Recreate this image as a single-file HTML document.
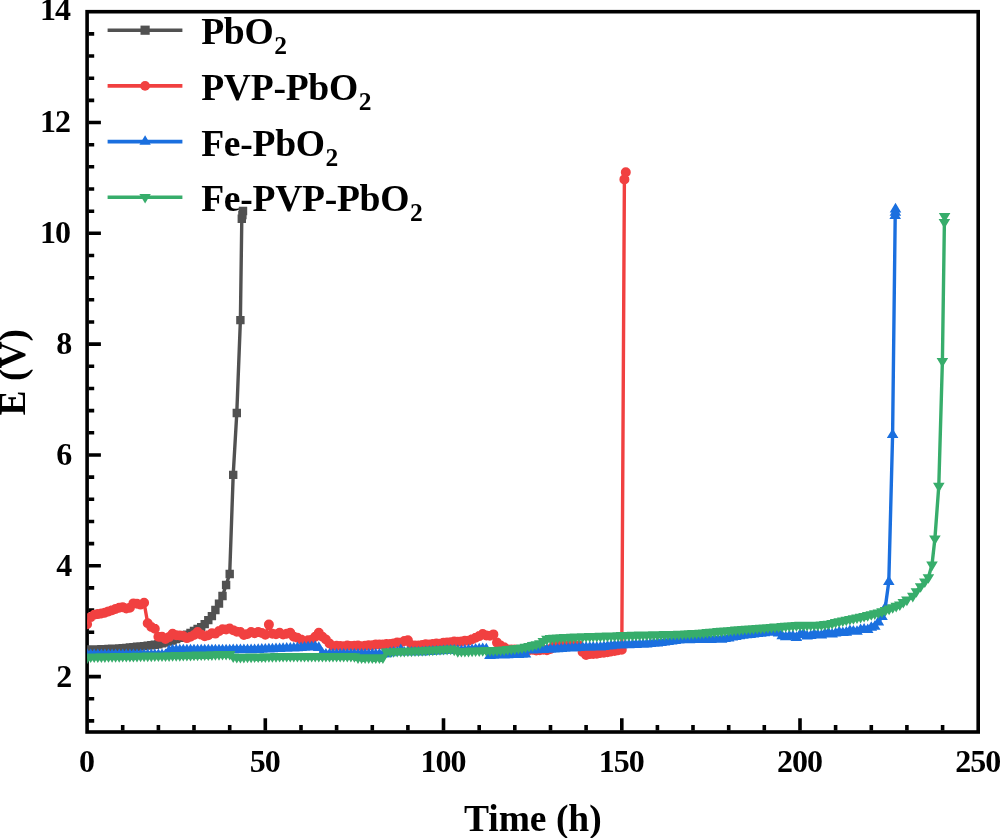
<!DOCTYPE html>
<html lang="en"><head><meta charset="utf-8"><title>E (V) vs Time (h)</title>
<style>
html,body{margin:0;padding:0;background:#fff;}
body{width:1000px;height:838px;overflow:hidden;}
svg{display:block;}
text{font-family:"Liberation Serif","Times New Roman",serif;font-weight:bold;fill:#000;}
.tk{font-size:32px;letter-spacing:-1px;}
.ttl{font-size:37.5px;}
.lg{font-size:37.6px;letter-spacing:-0.28px;}
.sub{font-size:25.5px;letter-spacing:0;}
</style></head><body>
<svg width="1000" height="838" viewBox="0 0 1000 838">
<rect width="1000" height="838" fill="#fff"/>
<g id="legend">
<line x1="107.6" x2="182.4" y1="30.2" y2="30.2" stroke="#515151" stroke-width="3.6"/>
<path d="M140.5 25.6h9.2v9.2h-9.2z" fill="#515151"/>
<text class="lg" x="201.2" y="44.1">PbO<tspan class="sub" dx="0.8" dy="10">2</tspan></text>
<line x1="107.6" x2="182.4" y1="85.9" y2="85.9" stroke="#F14040" stroke-width="3.6"/>
<path d="M140.2 85.9a4.9 4.9 0 1 0 9.8 0a4.9 4.9 0 1 0 -9.8 0z" fill="#F14040"/>
<text class="lg" x="201.2" y="99.8">PVP-PbO<tspan class="sub" dx="0.8" dy="10">2</tspan></text>
<line x1="107.6" x2="182.4" y1="141.6" y2="141.6" stroke="#1A6FDF" stroke-width="3.6"/>
<path d="M145.1 135.3l5.7 9.5h-11.4z" fill="#1A6FDF"/>
<text class="lg" x="201.2" y="155.5">Fe-PbO<tspan class="sub" dx="0.8" dy="10">2</tspan></text>
<line x1="107.6" x2="182.4" y1="197.2" y2="197.2" stroke="#37AD6B" stroke-width="3.6"/>
<path d="M145.1 203.5l5.7 -9.5h-11.4z" fill="#37AD6B"/>
<text class="lg" x="201.2" y="211.1">Fe-PVP-PbO<tspan class="sub" dx="0.8" dy="10">2</tspan></text>
</g>
<g id="axes" stroke="#000" stroke-width="3.6" fill="none">
<rect x="87.1" y="11.7" width="891.1" height="720.3"/>
<path d="M122.7 730.5v-5.6M158.4 730.5v-5.6M194 730.5v-5.6M229.7 730.5v-5.6M265.3 730.5v-12.3M301 730.5v-5.6M336.6 730.5v-5.6M372.3 730.5v-5.6M407.9 730.5v-5.6M443.5 730.5v-12.3M479.2 730.5v-5.6M514.8 730.5v-5.6M550.5 730.5v-5.6M586.1 730.5v-5.6M621.8 730.5v-12.3M657.4 730.5v-5.6M693 730.5v-5.6M728.7 730.5v-5.6M764.3 730.5v-5.6M800 730.5v-12.3M835.6 730.5v-5.6M871.3 730.5v-5.6M906.9 730.5v-5.6M942.6 730.5v-5.6M88.6 720.9h5.6M88.6 698.8h5.6M88.6 676.6h12.3M88.6 654.4h5.6M88.6 632.3h5.6M88.6 610.1h5.6M88.6 587.9h5.6M88.6 565.8h12.3M88.6 543.6h5.6M88.6 521.5h5.6M88.6 499.3h5.6M88.6 477.1h5.6M88.6 455h12.3M88.6 432.8h5.6M88.6 410.6h5.6M88.6 388.5h5.6M88.6 366.3h5.6M88.6 344.1h12.3M88.6 322h5.6M88.6 299.8h5.6M88.6 277.7h5.6M88.6 255.5h5.6M88.6 233.3h12.3M88.6 211.2h5.6M88.6 189h5.6M88.6 166.8h5.6M88.6 144.7h5.6M88.6 122.5h12.3M88.6 100.4h5.6M88.6 78.2h5.6M88.6 56h5.6M88.6 33.9h5.6"/>
</g>
<clipPath id="cp"><rect x="87.1" y="0" width="891.1" height="732"/></clipPath>
<g id="series" fill="none" stroke-linejoin="round" clip-path="url(#cp)">
<polyline points="87.1,649.6 90.7,649.5 94.2,649.4 97.8,649.4 101.4,649.3 104.9,649.2 108.5,649 112.1,648.8 115.6,648.6 119.2,648.4 122.7,648.2 126.3,647.9 129.9,647.5 133.4,647.2 137,646.8 140.6,646.5 144.1,646.1 147.7,645.6 151.3,645.2 154.8,644.8 158.4,644.3 162,643.4 165.5,642.5 169.1,641.5 172.6,640.5 176.2,639.1 179.8,637.8 183.3,636.2 186.9,634.6 190.5,633 194,631 197.6,629 201.2,627.1 204.7,624.1 208.3,620.1 211.9,616.1 215.4,610 219,603.6 222.5,596 226.1,585 229.7,574 233.2,474.9 236.8,413 240.4,320.1 241.8,218.8 242.4,215 243,211" stroke="#515151" stroke-width="3.4"/>
<path d="M82.9 645.4h8.4v8.4h-8.4zM86.5 645.3h8.4v8.4h-8.4zM90 645.2h8.4v8.4h-8.4zM93.6 645.2h8.4v8.4h-8.4zM97.2 645.1h8.4v8.4h-8.4zM100.7 645h8.4v8.4h-8.4zM104.3 644.8h8.4v8.4h-8.4zM107.9 644.6h8.4v8.4h-8.4zM111.4 644.4h8.4v8.4h-8.4zM115 644.2h8.4v8.4h-8.4zM118.5 644h8.4v8.4h-8.4zM122.1 643.7h8.4v8.4h-8.4zM125.7 643.3h8.4v8.4h-8.4zM129.2 643h8.4v8.4h-8.4zM132.8 642.6h8.4v8.4h-8.4zM136.4 642.3h8.4v8.4h-8.4zM139.9 641.9h8.4v8.4h-8.4zM143.5 641.4h8.4v8.4h-8.4zM147.1 641h8.4v8.4h-8.4zM150.6 640.5h8.4v8.4h-8.4zM154.2 640.1h8.4v8.4h-8.4zM157.8 639.2h8.4v8.4h-8.4zM161.3 638.3h8.4v8.4h-8.4zM164.9 637.3h8.4v8.4h-8.4zM168.4 636.3h8.4v8.4h-8.4zM172 634.9h8.4v8.4h-8.4zM175.6 633.6h8.4v8.4h-8.4zM179.1 632h8.4v8.4h-8.4zM182.7 630.4h8.4v8.4h-8.4zM186.3 628.8h8.4v8.4h-8.4zM189.8 626.8h8.4v8.4h-8.4zM193.4 624.8h8.4v8.4h-8.4zM197 622.9h8.4v8.4h-8.4zM200.5 619.9h8.4v8.4h-8.4zM204.1 615.9h8.4v8.4h-8.4zM207.7 611.9h8.4v8.4h-8.4zM211.2 605.8h8.4v8.4h-8.4zM214.8 599.4h8.4v8.4h-8.4zM218.3 591.8h8.4v8.4h-8.4zM221.9 580.8h8.4v8.4h-8.4zM225.5 569.8h8.4v8.4h-8.4zM229 470.7h8.4v8.4h-8.4zM232.6 408.8h8.4v8.4h-8.4zM236.2 315.9h8.4v8.4h-8.4zM237.6 214.6h8.4v8.4h-8.4zM238.2 210.8h8.4v8.4h-8.4zM238.8 206.8h8.4v8.4h-8.4z" fill="#515151" stroke="none"/>
<polyline points="87.1,624.2 90.7,617.1 94.2,614.8 97.8,614.1 101.4,613.5 104.9,612.7 108.5,611.4 112.1,610.2 115.6,608.9 119.2,607.8 122.7,607.2 126.3,608.4 129.9,607.7 133.4,603.4 137,603.8 140.6,604.6 144.1,602.8 147.7,623.3 151.3,627 154.8,628.8 158.4,636.8 162,636.8 165.5,638.9 169.1,637.1 172.6,633.8 176.2,635.3 179.8,635.4 183.3,636 186.9,638.1 190.5,636.8 194,635 197.6,632 201.2,634.6 204.7,636.2 208.3,635.2 211.9,633.2 215.4,633.6 219,631.1 222.5,629.3 226.1,629.5 229.7,628.6 233.2,630.2 236.8,631.8 240.4,632 243.9,634.9 247.5,633.9 251.1,632.1 254.6,633.3 258.2,632 261.8,633 265.3,634.7 268.9,624.6 272.4,633.8 276,634.3 279.6,632.7 283.1,634.4 286.7,633.8 290.3,632.7 293.8,636.7 297.4,637.8 301,639.4 304.5,641.4 308.1,640.3 311.7,639.7 315.2,636.8 318.8,632.8 322.4,636.7 325.9,639.5 329.5,643.5 333,646 336.6,645.7 340.2,646 343.7,646.2 347.3,645.5 350.9,645.9 354.4,645.8 358,645.6 361.6,646.2 365.1,645.7 368.7,645.2 372.3,645.3 375.8,644.4 379.4,644.5 382.9,644.6 386.5,644 390.1,644.1 393.6,643.4 397.2,642.5 400.8,642.5 404.3,641.1 407.9,640.3 411.5,645.2 415,645.6 418.6,645.5 422.2,645.1 425.7,644.2 429.3,644.5 432.8,644.1 436.4,643.6 440,643.8 443.5,642.8 447.1,642.4 450.7,642.3 454.2,641.5 457.8,641.7 461.4,641.5 464.9,640.7 468.5,640.7 472.1,639.3 475.6,637.8 479.2,636.1 482.7,634.1 486.3,635.5 489.9,635.8 493.4,634.4 497,642.6 500.6,645.6 504.1,647.3 507.7,649.3 511.3,649.5 514.8,649.5 518.4,649.9 522,649.3 525.5,649.7 529.1,650.1 532.6,649.8 536.2,650.4 539.8,650.2 543.3,649.8 546.9,650.2 550.5,648.9 554,645.3 557.6,645.9 561.2,645.4 564.7,645.8 568.3,645.7 571.9,645 575.4,645.5 579,645.4 582.6,652 586.1,654.9 589.7,654.1 593.2,653.9 596.8,653.8 600.4,652.9 603.9,652.8 607.5,652.3 611.1,651.4 614.6,650.9 618.2,650.3 621.8,649.8 624.4,179.4 625.8,172.2" stroke="#F14040" stroke-width="3.4"/>
<path d="M82.1 624.2a5 5 0 1 0 10 0a5 5 0 1 0 -10 0zM85.7 617.1a5 5 0 1 0 10 0a5 5 0 1 0 -10 0zM89.2 614.8a5 5 0 1 0 10 0a5 5 0 1 0 -10 0zM92.8 614.1a5 5 0 1 0 10 0a5 5 0 1 0 -10 0zM96.4 613.5a5 5 0 1 0 10 0a5 5 0 1 0 -10 0zM99.9 612.7a5 5 0 1 0 10 0a5 5 0 1 0 -10 0zM103.5 611.4a5 5 0 1 0 10 0a5 5 0 1 0 -10 0zM107.1 610.2a5 5 0 1 0 10 0a5 5 0 1 0 -10 0zM110.6 608.9a5 5 0 1 0 10 0a5 5 0 1 0 -10 0zM114.2 607.8a5 5 0 1 0 10 0a5 5 0 1 0 -10 0zM117.7 607.2a5 5 0 1 0 10 0a5 5 0 1 0 -10 0zM121.3 608.4a5 5 0 1 0 10 0a5 5 0 1 0 -10 0zM124.9 607.7a5 5 0 1 0 10 0a5 5 0 1 0 -10 0zM128.4 603.4a5 5 0 1 0 10 0a5 5 0 1 0 -10 0zM132 603.8a5 5 0 1 0 10 0a5 5 0 1 0 -10 0zM135.6 604.6a5 5 0 1 0 10 0a5 5 0 1 0 -10 0zM139.1 602.8a5 5 0 1 0 10 0a5 5 0 1 0 -10 0zM142.7 623.3a5 5 0 1 0 10 0a5 5 0 1 0 -10 0zM146.3 627a5 5 0 1 0 10 0a5 5 0 1 0 -10 0zM149.8 628.8a5 5 0 1 0 10 0a5 5 0 1 0 -10 0zM153.4 636.8a5 5 0 1 0 10 0a5 5 0 1 0 -10 0zM157 636.8a5 5 0 1 0 10 0a5 5 0 1 0 -10 0zM160.5 638.9a5 5 0 1 0 10 0a5 5 0 1 0 -10 0zM164.1 637.1a5 5 0 1 0 10 0a5 5 0 1 0 -10 0zM167.6 633.8a5 5 0 1 0 10 0a5 5 0 1 0 -10 0zM171.2 635.3a5 5 0 1 0 10 0a5 5 0 1 0 -10 0zM174.8 635.4a5 5 0 1 0 10 0a5 5 0 1 0 -10 0zM178.3 636a5 5 0 1 0 10 0a5 5 0 1 0 -10 0zM181.9 638.1a5 5 0 1 0 10 0a5 5 0 1 0 -10 0zM185.5 636.8a5 5 0 1 0 10 0a5 5 0 1 0 -10 0zM189 635a5 5 0 1 0 10 0a5 5 0 1 0 -10 0zM192.6 632a5 5 0 1 0 10 0a5 5 0 1 0 -10 0zM196.2 634.6a5 5 0 1 0 10 0a5 5 0 1 0 -10 0zM199.7 636.2a5 5 0 1 0 10 0a5 5 0 1 0 -10 0zM203.3 635.2a5 5 0 1 0 10 0a5 5 0 1 0 -10 0zM206.9 633.2a5 5 0 1 0 10 0a5 5 0 1 0 -10 0zM210.4 633.6a5 5 0 1 0 10 0a5 5 0 1 0 -10 0zM214 631.1a5 5 0 1 0 10 0a5 5 0 1 0 -10 0zM217.5 629.3a5 5 0 1 0 10 0a5 5 0 1 0 -10 0zM221.1 629.5a5 5 0 1 0 10 0a5 5 0 1 0 -10 0zM224.7 628.6a5 5 0 1 0 10 0a5 5 0 1 0 -10 0zM228.2 630.2a5 5 0 1 0 10 0a5 5 0 1 0 -10 0zM231.8 631.8a5 5 0 1 0 10 0a5 5 0 1 0 -10 0zM235.4 632a5 5 0 1 0 10 0a5 5 0 1 0 -10 0zM238.9 634.9a5 5 0 1 0 10 0a5 5 0 1 0 -10 0zM242.5 633.9a5 5 0 1 0 10 0a5 5 0 1 0 -10 0zM246.1 632.1a5 5 0 1 0 10 0a5 5 0 1 0 -10 0zM249.6 633.3a5 5 0 1 0 10 0a5 5 0 1 0 -10 0zM253.2 632a5 5 0 1 0 10 0a5 5 0 1 0 -10 0zM256.8 633a5 5 0 1 0 10 0a5 5 0 1 0 -10 0zM260.3 634.7a5 5 0 1 0 10 0a5 5 0 1 0 -10 0zM263.9 624.6a5 5 0 1 0 10 0a5 5 0 1 0 -10 0zM267.4 633.8a5 5 0 1 0 10 0a5 5 0 1 0 -10 0zM271 634.3a5 5 0 1 0 10 0a5 5 0 1 0 -10 0zM274.6 632.7a5 5 0 1 0 10 0a5 5 0 1 0 -10 0zM278.1 634.4a5 5 0 1 0 10 0a5 5 0 1 0 -10 0zM281.7 633.8a5 5 0 1 0 10 0a5 5 0 1 0 -10 0zM285.3 632.7a5 5 0 1 0 10 0a5 5 0 1 0 -10 0zM288.8 636.7a5 5 0 1 0 10 0a5 5 0 1 0 -10 0zM292.4 637.8a5 5 0 1 0 10 0a5 5 0 1 0 -10 0zM296 639.4a5 5 0 1 0 10 0a5 5 0 1 0 -10 0zM299.5 641.4a5 5 0 1 0 10 0a5 5 0 1 0 -10 0zM303.1 640.3a5 5 0 1 0 10 0a5 5 0 1 0 -10 0zM306.7 639.7a5 5 0 1 0 10 0a5 5 0 1 0 -10 0zM310.2 636.8a5 5 0 1 0 10 0a5 5 0 1 0 -10 0zM313.8 632.8a5 5 0 1 0 10 0a5 5 0 1 0 -10 0zM317.4 636.7a5 5 0 1 0 10 0a5 5 0 1 0 -10 0zM320.9 639.5a5 5 0 1 0 10 0a5 5 0 1 0 -10 0zM324.5 643.5a5 5 0 1 0 10 0a5 5 0 1 0 -10 0zM328 646a5 5 0 1 0 10 0a5 5 0 1 0 -10 0zM331.6 645.7a5 5 0 1 0 10 0a5 5 0 1 0 -10 0zM335.2 646a5 5 0 1 0 10 0a5 5 0 1 0 -10 0zM338.7 646.2a5 5 0 1 0 10 0a5 5 0 1 0 -10 0zM342.3 645.5a5 5 0 1 0 10 0a5 5 0 1 0 -10 0zM345.9 645.9a5 5 0 1 0 10 0a5 5 0 1 0 -10 0zM349.4 645.8a5 5 0 1 0 10 0a5 5 0 1 0 -10 0zM353 645.6a5 5 0 1 0 10 0a5 5 0 1 0 -10 0zM356.6 646.2a5 5 0 1 0 10 0a5 5 0 1 0 -10 0zM360.1 645.7a5 5 0 1 0 10 0a5 5 0 1 0 -10 0zM363.7 645.2a5 5 0 1 0 10 0a5 5 0 1 0 -10 0zM367.3 645.3a5 5 0 1 0 10 0a5 5 0 1 0 -10 0zM370.8 644.4a5 5 0 1 0 10 0a5 5 0 1 0 -10 0zM374.4 644.5a5 5 0 1 0 10 0a5 5 0 1 0 -10 0zM377.9 644.6a5 5 0 1 0 10 0a5 5 0 1 0 -10 0zM381.5 644a5 5 0 1 0 10 0a5 5 0 1 0 -10 0zM385.1 644.1a5 5 0 1 0 10 0a5 5 0 1 0 -10 0zM388.6 643.4a5 5 0 1 0 10 0a5 5 0 1 0 -10 0zM392.2 642.5a5 5 0 1 0 10 0a5 5 0 1 0 -10 0zM395.8 642.5a5 5 0 1 0 10 0a5 5 0 1 0 -10 0zM399.3 641.1a5 5 0 1 0 10 0a5 5 0 1 0 -10 0zM402.9 640.3a5 5 0 1 0 10 0a5 5 0 1 0 -10 0zM406.5 645.2a5 5 0 1 0 10 0a5 5 0 1 0 -10 0zM410 645.6a5 5 0 1 0 10 0a5 5 0 1 0 -10 0zM413.6 645.5a5 5 0 1 0 10 0a5 5 0 1 0 -10 0zM417.2 645.1a5 5 0 1 0 10 0a5 5 0 1 0 -10 0zM420.7 644.2a5 5 0 1 0 10 0a5 5 0 1 0 -10 0zM424.3 644.5a5 5 0 1 0 10 0a5 5 0 1 0 -10 0zM427.8 644.1a5 5 0 1 0 10 0a5 5 0 1 0 -10 0zM431.4 643.6a5 5 0 1 0 10 0a5 5 0 1 0 -10 0zM435 643.8a5 5 0 1 0 10 0a5 5 0 1 0 -10 0zM438.5 642.8a5 5 0 1 0 10 0a5 5 0 1 0 -10 0zM442.1 642.4a5 5 0 1 0 10 0a5 5 0 1 0 -10 0zM445.7 642.3a5 5 0 1 0 10 0a5 5 0 1 0 -10 0zM449.2 641.5a5 5 0 1 0 10 0a5 5 0 1 0 -10 0zM452.8 641.7a5 5 0 1 0 10 0a5 5 0 1 0 -10 0zM456.4 641.5a5 5 0 1 0 10 0a5 5 0 1 0 -10 0zM459.9 640.7a5 5 0 1 0 10 0a5 5 0 1 0 -10 0zM463.5 640.7a5 5 0 1 0 10 0a5 5 0 1 0 -10 0zM467.1 639.3a5 5 0 1 0 10 0a5 5 0 1 0 -10 0zM470.6 637.8a5 5 0 1 0 10 0a5 5 0 1 0 -10 0zM474.2 636.1a5 5 0 1 0 10 0a5 5 0 1 0 -10 0zM477.7 634.1a5 5 0 1 0 10 0a5 5 0 1 0 -10 0zM481.3 635.5a5 5 0 1 0 10 0a5 5 0 1 0 -10 0zM484.9 635.8a5 5 0 1 0 10 0a5 5 0 1 0 -10 0zM488.4 634.4a5 5 0 1 0 10 0a5 5 0 1 0 -10 0zM492 642.6a5 5 0 1 0 10 0a5 5 0 1 0 -10 0zM495.6 645.6a5 5 0 1 0 10 0a5 5 0 1 0 -10 0zM499.1 647.3a5 5 0 1 0 10 0a5 5 0 1 0 -10 0zM502.7 649.3a5 5 0 1 0 10 0a5 5 0 1 0 -10 0zM506.3 649.5a5 5 0 1 0 10 0a5 5 0 1 0 -10 0zM509.8 649.5a5 5 0 1 0 10 0a5 5 0 1 0 -10 0zM513.4 649.9a5 5 0 1 0 10 0a5 5 0 1 0 -10 0zM517 649.3a5 5 0 1 0 10 0a5 5 0 1 0 -10 0zM520.5 649.7a5 5 0 1 0 10 0a5 5 0 1 0 -10 0zM524.1 650.1a5 5 0 1 0 10 0a5 5 0 1 0 -10 0zM527.6 649.8a5 5 0 1 0 10 0a5 5 0 1 0 -10 0zM531.2 650.4a5 5 0 1 0 10 0a5 5 0 1 0 -10 0zM534.8 650.2a5 5 0 1 0 10 0a5 5 0 1 0 -10 0zM538.3 649.8a5 5 0 1 0 10 0a5 5 0 1 0 -10 0zM541.9 650.2a5 5 0 1 0 10 0a5 5 0 1 0 -10 0zM545.5 648.9a5 5 0 1 0 10 0a5 5 0 1 0 -10 0zM549 645.3a5 5 0 1 0 10 0a5 5 0 1 0 -10 0zM552.6 645.9a5 5 0 1 0 10 0a5 5 0 1 0 -10 0zM556.2 645.4a5 5 0 1 0 10 0a5 5 0 1 0 -10 0zM559.7 645.8a5 5 0 1 0 10 0a5 5 0 1 0 -10 0zM563.3 645.7a5 5 0 1 0 10 0a5 5 0 1 0 -10 0zM566.9 645a5 5 0 1 0 10 0a5 5 0 1 0 -10 0zM570.4 645.5a5 5 0 1 0 10 0a5 5 0 1 0 -10 0zM574 645.4a5 5 0 1 0 10 0a5 5 0 1 0 -10 0zM577.6 652a5 5 0 1 0 10 0a5 5 0 1 0 -10 0zM581.1 654.9a5 5 0 1 0 10 0a5 5 0 1 0 -10 0zM584.7 654.1a5 5 0 1 0 10 0a5 5 0 1 0 -10 0zM588.2 653.9a5 5 0 1 0 10 0a5 5 0 1 0 -10 0zM591.8 653.8a5 5 0 1 0 10 0a5 5 0 1 0 -10 0zM595.4 652.9a5 5 0 1 0 10 0a5 5 0 1 0 -10 0zM598.9 652.8a5 5 0 1 0 10 0a5 5 0 1 0 -10 0zM602.5 652.3a5 5 0 1 0 10 0a5 5 0 1 0 -10 0zM606.1 651.4a5 5 0 1 0 10 0a5 5 0 1 0 -10 0zM609.6 650.9a5 5 0 1 0 10 0a5 5 0 1 0 -10 0zM613.2 650.3a5 5 0 1 0 10 0a5 5 0 1 0 -10 0zM616.8 649.8a5 5 0 1 0 10 0a5 5 0 1 0 -10 0zM619.4 179.4a5 5 0 1 0 10 0a5 5 0 1 0 -10 0zM620.8 172.2a5 5 0 1 0 10 0a5 5 0 1 0 -10 0z" fill="#F14040" stroke="none"/>
<polyline points="87.1,654.8 90.7,654.8 94.2,654.8 97.8,654.8 101.4,654.8 104.9,654.8 108.5,654.8 112.1,654.8 115.6,654.8 119.2,654.8 122.7,654.8 126.3,654.8 129.9,654.8 133.4,654.8 137,654.8 140.6,654.8 144.1,654.8 147.7,654.8 151.3,654.8 154.8,654.8 158.4,654.8 162,654.8 165.5,654.8 169.1,650.8 172.6,650.2 176.2,650.2 179.8,650.2 183.3,650.2 186.9,650.2 190.5,650.1 194,650.1 197.6,650.1 201.2,650.1 204.7,650.1 208.3,650.1 211.9,650.1 215.4,650.1 219,650.1 222.5,650.1 226.1,650.1 229.7,650.1 233.2,650 236.8,650 240.4,650 243.9,650 247.5,650 251.1,650 254.6,649.8 258.2,649.7 261.8,649.5 265.3,649.4 268.9,649.2 272.4,649.1 276,648.9 279.6,648.8 283.1,648.6 286.7,648.5 290.3,648.3 293.8,648.2 297.4,648 301,647.8 304.5,647.5 308.1,647.2 311.7,646.9 315.2,646.6 318.8,647.7 322.4,653.4 325.9,654.4 329.5,654.4 333,654.4 336.6,654.4 340.2,654.4 343.7,654.4 347.3,654.4 350.9,654.4 354.4,654.4 358,654.4 361.6,654.4 365.1,654.4 368.7,654.4 372.3,654.4 375.8,654.4 379.4,654.4 382.9,654.4 386.5,654 390.1,653 393.6,652.4 397.2,652.4 400.8,650 404.3,652.4 407.9,652.4 411.5,652.3 415,652.3 418.6,652.3 422.2,652.2 425.7,651.9 429.3,651.7 432.8,651.5 436.4,651.3 440,651.1 443.5,650.8 447.1,650.6 450.7,650.4 454.2,650.5 457.8,650.7 461.4,650.8 464.9,650.5 468.5,650.1 472.1,649.8 475.6,649.5 479.2,649.2 482.7,648.9 486.3,649.2 489.9,655.7 493.4,655.6 497,655.4 500.6,655.3 504.1,655.2 507.7,655.1 511.3,654.9 514.8,654.8 518.4,654.7 522,654.6 525.5,654.4 529.1,647.9 532.6,650.2 536.2,650.1 539.8,649.9 543.3,649.8 546.9,649.6 550.5,649.5 554,649.3 557.6,649.1 561.2,648.8 564.7,648.6 568.3,648.4 571.9,648.2 575.4,648 579,647.8 582.6,647.6 586.1,647.5 589.7,647.5 593.2,647.4 596.8,647.3 600.4,647.2 603.9,646.8 607.5,646.4 611.1,646 614.6,645.6 618.2,645.4 621.8,645.3 625.3,645.1 628.9,645 632.5,644.9 636,644.7 639.6,644.6 643.1,644.5 646.7,644.2 650.3,643.9 653.8,643.5 657.4,643.2 661,642.8 664.5,642.4 668.1,641.9 671.7,641.4 675.2,640.8 678.8,640.3 682.4,640.1 685.9,640 689.5,640 693,639.9 696.6,639.9 700.2,639.8 703.7,639.8 707.3,639.7 710.9,639.7 714.4,639.6 718,639.6 721.6,639.5 725.1,638.9 728.7,638.2 732.3,637.4 735.8,636.7 739.4,636 742.9,635.6 746.5,635.1 750.1,634.7 753.6,634.3 757.2,633.9 760.8,633.5 764.3,633.1 767.9,632.6 771.5,632.2 775,631.8 778.6,633.2 782.2,636.1 785.7,637.1 789.3,636.1 792.9,636.2 796.4,637.7 800,634.7 803.5,634.1 807.1,636.2 810.7,635.9 814.2,634.4 817.8,635 821.4,635.4 824.9,633.7 828.5,633.2 832.1,634.4 835.6,633.3 839.2,632.1 842.8,632.9 846.3,632.5 849.9,630.9 853.4,631.3 857,631.6 860.6,629.9 864.1,629.5 867.7,629.8 871.3,627.6 874.8,626.6 878.4,622.2 882,616.8 885.2,607.9 888.8,581.8 892.6,434.8 895.2,215.8 895.4,212.6 895.5,209.2" stroke="#1A6FDF" stroke-width="3.4"/>
<path d="M87.1 648.4l5.8 9.6h-11.6zM90.7 648.4l5.8 9.6h-11.6zM94.2 648.4l5.8 9.6h-11.6zM97.8 648.4l5.8 9.6h-11.6zM101.4 648.4l5.8 9.6h-11.6zM104.9 648.4l5.8 9.6h-11.6zM108.5 648.4l5.8 9.6h-11.6zM112.1 648.4l5.8 9.6h-11.6zM115.6 648.4l5.8 9.6h-11.6zM119.2 648.4l5.8 9.6h-11.6zM122.7 648.4l5.8 9.6h-11.6zM126.3 648.4l5.8 9.6h-11.6zM129.9 648.4l5.8 9.6h-11.6zM133.4 648.4l5.8 9.6h-11.6zM137 648.4l5.8 9.6h-11.6zM140.6 648.4l5.8 9.6h-11.6zM144.1 648.4l5.8 9.6h-11.6zM147.7 648.4l5.8 9.6h-11.6zM151.3 648.4l5.8 9.6h-11.6zM154.8 648.4l5.8 9.6h-11.6zM158.4 648.4l5.8 9.6h-11.6zM162 648.4l5.8 9.6h-11.6zM165.5 648.4l5.8 9.6h-11.6zM169.1 644.4l5.8 9.6h-11.6zM172.6 643.8l5.8 9.6h-11.6zM176.2 643.8l5.8 9.6h-11.6zM179.8 643.8l5.8 9.6h-11.6zM183.3 643.8l5.8 9.6h-11.6zM186.9 643.8l5.8 9.6h-11.6zM190.5 643.7l5.8 9.6h-11.6zM194 643.7l5.8 9.6h-11.6zM197.6 643.7l5.8 9.6h-11.6zM201.2 643.7l5.8 9.6h-11.6zM204.7 643.7l5.8 9.6h-11.6zM208.3 643.7l5.8 9.6h-11.6zM211.9 643.7l5.8 9.6h-11.6zM215.4 643.7l5.8 9.6h-11.6zM219 643.7l5.8 9.6h-11.6zM222.5 643.7l5.8 9.6h-11.6zM226.1 643.7l5.8 9.6h-11.6zM229.7 643.7l5.8 9.6h-11.6zM233.2 643.6l5.8 9.6h-11.6zM236.8 643.6l5.8 9.6h-11.6zM240.4 643.6l5.8 9.6h-11.6zM243.9 643.6l5.8 9.6h-11.6zM247.5 643.6l5.8 9.6h-11.6zM251.1 643.6l5.8 9.6h-11.6zM254.6 643.4l5.8 9.6h-11.6zM258.2 643.3l5.8 9.6h-11.6zM261.8 643.1l5.8 9.6h-11.6zM265.3 643l5.8 9.6h-11.6zM268.9 642.8l5.8 9.6h-11.6zM272.4 642.7l5.8 9.6h-11.6zM276 642.5l5.8 9.6h-11.6zM279.6 642.4l5.8 9.6h-11.6zM283.1 642.2l5.8 9.6h-11.6zM286.7 642.1l5.8 9.6h-11.6zM290.3 641.9l5.8 9.6h-11.6zM293.8 641.8l5.8 9.6h-11.6zM297.4 641.6l5.8 9.6h-11.6zM301 641.4l5.8 9.6h-11.6zM304.5 641.1l5.8 9.6h-11.6zM308.1 640.8l5.8 9.6h-11.6zM311.7 640.5l5.8 9.6h-11.6zM315.2 640.2l5.8 9.6h-11.6zM318.8 641.3l5.8 9.6h-11.6zM322.4 647l5.8 9.6h-11.6zM325.9 648l5.8 9.6h-11.6zM329.5 648l5.8 9.6h-11.6zM333 648l5.8 9.6h-11.6zM336.6 648l5.8 9.6h-11.6zM340.2 648l5.8 9.6h-11.6zM343.7 648l5.8 9.6h-11.6zM347.3 648l5.8 9.6h-11.6zM350.9 648l5.8 9.6h-11.6zM354.4 648l5.8 9.6h-11.6zM358 648l5.8 9.6h-11.6zM361.6 648l5.8 9.6h-11.6zM365.1 648l5.8 9.6h-11.6zM368.7 648l5.8 9.6h-11.6zM372.3 648l5.8 9.6h-11.6zM375.8 648l5.8 9.6h-11.6zM379.4 648l5.8 9.6h-11.6zM382.9 648l5.8 9.6h-11.6zM386.5 647.6l5.8 9.6h-11.6zM390.1 646.6l5.8 9.6h-11.6zM393.6 646l5.8 9.6h-11.6zM397.2 646l5.8 9.6h-11.6zM400.8 643.6l5.8 9.6h-11.6zM404.3 646l5.8 9.6h-11.6zM407.9 646l5.8 9.6h-11.6zM411.5 645.9l5.8 9.6h-11.6zM415 645.9l5.8 9.6h-11.6zM418.6 645.9l5.8 9.6h-11.6zM422.2 645.8l5.8 9.6h-11.6zM425.7 645.5l5.8 9.6h-11.6zM429.3 645.3l5.8 9.6h-11.6zM432.8 645.1l5.8 9.6h-11.6zM436.4 644.9l5.8 9.6h-11.6zM440 644.7l5.8 9.6h-11.6zM443.5 644.4l5.8 9.6h-11.6zM447.1 644.2l5.8 9.6h-11.6zM450.7 644l5.8 9.6h-11.6zM454.2 644.1l5.8 9.6h-11.6zM457.8 644.3l5.8 9.6h-11.6zM461.4 644.4l5.8 9.6h-11.6zM464.9 644.1l5.8 9.6h-11.6zM468.5 643.7l5.8 9.6h-11.6zM472.1 643.4l5.8 9.6h-11.6zM475.6 643.1l5.8 9.6h-11.6zM479.2 642.8l5.8 9.6h-11.6zM482.7 642.5l5.8 9.6h-11.6zM486.3 642.8l5.8 9.6h-11.6zM489.9 649.3l5.8 9.6h-11.6zM493.4 649.2l5.8 9.6h-11.6zM497 649l5.8 9.6h-11.6zM500.6 648.9l5.8 9.6h-11.6zM504.1 648.8l5.8 9.6h-11.6zM507.7 648.7l5.8 9.6h-11.6zM511.3 648.5l5.8 9.6h-11.6zM514.8 648.4l5.8 9.6h-11.6zM518.4 648.3l5.8 9.6h-11.6zM522 648.2l5.8 9.6h-11.6zM525.5 648l5.8 9.6h-11.6zM529.1 641.5l5.8 9.6h-11.6zM532.6 643.8l5.8 9.6h-11.6zM536.2 643.7l5.8 9.6h-11.6zM539.8 643.5l5.8 9.6h-11.6zM543.3 643.4l5.8 9.6h-11.6zM546.9 643.2l5.8 9.6h-11.6zM550.5 643.1l5.8 9.6h-11.6zM554 642.9l5.8 9.6h-11.6zM557.6 642.7l5.8 9.6h-11.6zM561.2 642.4l5.8 9.6h-11.6zM564.7 642.2l5.8 9.6h-11.6zM568.3 642l5.8 9.6h-11.6zM571.9 641.8l5.8 9.6h-11.6zM575.4 641.6l5.8 9.6h-11.6zM579 641.4l5.8 9.6h-11.6zM582.6 641.2l5.8 9.6h-11.6zM586.1 641.1l5.8 9.6h-11.6zM589.7 641.1l5.8 9.6h-11.6zM593.2 641l5.8 9.6h-11.6zM596.8 640.9l5.8 9.6h-11.6zM600.4 640.8l5.8 9.6h-11.6zM603.9 640.4l5.8 9.6h-11.6zM607.5 640l5.8 9.6h-11.6zM611.1 639.6l5.8 9.6h-11.6zM614.6 639.2l5.8 9.6h-11.6zM618.2 639l5.8 9.6h-11.6zM621.8 638.9l5.8 9.6h-11.6zM625.3 638.7l5.8 9.6h-11.6zM628.9 638.6l5.8 9.6h-11.6zM632.5 638.5l5.8 9.6h-11.6zM636 638.3l5.8 9.6h-11.6zM639.6 638.2l5.8 9.6h-11.6zM643.1 638.1l5.8 9.6h-11.6zM646.7 637.8l5.8 9.6h-11.6zM650.3 637.5l5.8 9.6h-11.6zM653.8 637.1l5.8 9.6h-11.6zM657.4 636.8l5.8 9.6h-11.6zM661 636.4l5.8 9.6h-11.6zM664.5 636l5.8 9.6h-11.6zM668.1 635.5l5.8 9.6h-11.6zM671.7 635l5.8 9.6h-11.6zM675.2 634.4l5.8 9.6h-11.6zM678.8 633.9l5.8 9.6h-11.6zM682.4 633.7l5.8 9.6h-11.6zM685.9 633.6l5.8 9.6h-11.6zM689.5 633.6l5.8 9.6h-11.6zM693 633.5l5.8 9.6h-11.6zM696.6 633.5l5.8 9.6h-11.6zM700.2 633.4l5.8 9.6h-11.6zM703.7 633.4l5.8 9.6h-11.6zM707.3 633.3l5.8 9.6h-11.6zM710.9 633.3l5.8 9.6h-11.6zM714.4 633.2l5.8 9.6h-11.6zM718 633.2l5.8 9.6h-11.6zM721.6 633.1l5.8 9.6h-11.6zM725.1 632.5l5.8 9.6h-11.6zM728.7 631.8l5.8 9.6h-11.6zM732.3 631l5.8 9.6h-11.6zM735.8 630.3l5.8 9.6h-11.6zM739.4 629.6l5.8 9.6h-11.6zM742.9 629.2l5.8 9.6h-11.6zM746.5 628.7l5.8 9.6h-11.6zM750.1 628.3l5.8 9.6h-11.6zM753.6 627.9l5.8 9.6h-11.6zM757.2 627.5l5.8 9.6h-11.6zM760.8 627.1l5.8 9.6h-11.6zM764.3 626.7l5.8 9.6h-11.6zM767.9 626.2l5.8 9.6h-11.6zM771.5 625.8l5.8 9.6h-11.6zM775 625.4l5.8 9.6h-11.6zM778.6 626.8l5.8 9.6h-11.6zM782.2 629.7l5.8 9.6h-11.6zM785.7 630.7l5.8 9.6h-11.6zM789.3 629.7l5.8 9.6h-11.6zM792.9 629.8l5.8 9.6h-11.6zM796.4 631.3l5.8 9.6h-11.6zM800 628.3l5.8 9.6h-11.6zM803.5 627.7l5.8 9.6h-11.6zM807.1 629.8l5.8 9.6h-11.6zM810.7 629.5l5.8 9.6h-11.6zM814.2 628l5.8 9.6h-11.6zM817.8 628.6l5.8 9.6h-11.6zM821.4 629l5.8 9.6h-11.6zM824.9 627.3l5.8 9.6h-11.6zM828.5 626.8l5.8 9.6h-11.6zM832.1 628l5.8 9.6h-11.6zM835.6 626.9l5.8 9.6h-11.6zM839.2 625.7l5.8 9.6h-11.6zM842.8 626.5l5.8 9.6h-11.6zM846.3 626.1l5.8 9.6h-11.6zM849.9 624.5l5.8 9.6h-11.6zM853.4 624.9l5.8 9.6h-11.6zM857 625.2l5.8 9.6h-11.6zM860.6 623.5l5.8 9.6h-11.6zM864.1 623.1l5.8 9.6h-11.6zM867.7 623.4l5.8 9.6h-11.6zM871.3 621.2l5.8 9.6h-11.6zM874.8 620.2l5.8 9.6h-11.6zM878.4 615.8l5.8 9.6h-11.6zM882 610.4l5.8 9.6h-11.6zM885.2 601.5l5.8 9.6h-11.6zM888.8 575.4l5.8 9.6h-11.6zM892.6 428.4l5.8 9.6h-11.6zM895.2 209.4l5.8 9.6h-11.6zM895.4 206.2l5.8 9.6h-11.6zM895.5 202.8l5.8 9.6h-11.6z" fill="#1A6FDF" stroke="none"/>
<polyline points="87.1,657.7 90.7,656.7 94.2,656.6 97.8,656.6 101.4,656.5 104.9,656.5 108.5,656.4 112.1,656.4 115.6,656.3 119.2,656.3 122.7,656.2 126.3,656.2 129.9,656.1 133.4,656.1 137,656 140.6,655.9 144.1,655.9 147.7,655.8 151.3,655.8 154.8,655.7 158.4,655.7 162,655.6 165.5,655.6 169.1,655.5 172.6,655.4 176.2,655.3 179.8,655.3 183.3,655.2 186.9,655.1 190.5,655 194,654.9 197.6,654.8 201.2,654.7 204.7,654.7 208.3,654.6 211.9,654.5 215.4,654.4 219,654.3 222.5,654.2 226.1,654.1 229.7,654.1 233.2,656.6 236.8,657.1 240.4,657.1 243.9,657 247.5,656.9 251.1,656.8 254.6,656.7 258.2,656.7 261.8,656.6 265.3,656.5 268.9,656.4 272.4,656.4 276,656.3 279.6,656.2 283.1,656.2 286.7,656.2 290.3,656.2 293.8,656.2 297.4,656.2 301,656.2 304.5,656.2 308.1,656.2 311.7,656.2 315.2,656.2 318.8,656.2 322.4,656.2 325.9,656.2 329.5,656.2 333,656.2 336.6,656.2 340.2,656.2 343.7,656.2 347.3,656.2 350.9,656.2 354.4,656.4 358,657.5 361.6,657.5 365.1,657.5 368.7,657.5 372.3,657.5 375.8,657.5 379.4,657.5 382.9,657.5 386.5,651.6 390.1,651.5 393.6,651.4 397.2,651.2 400.8,651.1 404.3,651 407.9,650.9 411.5,650.8 415,650.7 418.6,650.5 422.2,650.4 425.7,650.2 429.3,650 432.8,649.8 436.4,649.6 440,649.4 443.5,649.2 447.1,649 450.7,648.8 454.2,649.8 457.8,651.4 461.4,651.2 464.9,651.1 468.5,651 472.1,650.8 475.6,650.7 479.2,650.5 482.7,650.4 486.3,650.3 489.9,650.3 493.4,650.2 497,650.1 500.6,649.9 504.1,649.6 507.7,649.2 511.3,648.9 514.8,648.5 518.4,648.2 522,647.6 525.5,646.9 529.1,646.2 532.6,645.3 536.2,644.4 539.8,643.4 543.3,641.2 546.9,639 550.5,638.3 554,638 557.6,637.7 561.2,637.4 564.7,637.3 568.3,637.1 571.9,637 575.4,636.8 579,636.6 582.6,636.5 586.1,636.4 589.7,636.3 593.2,636.2 596.8,636.1 600.4,636 603.9,635.9 607.5,635.8 611.1,635.7 614.6,635.6 618.2,635.5 621.8,635.3 625.3,635.2 628.9,635.1 632.5,635 636,634.9 639.6,634.8 643.1,634.7 646.7,634.7 650.3,634.6 653.8,634.5 657.4,634.5 661,634.4 664.5,634.3 668.1,634.2 671.7,634.2 675.2,634.1 678.8,634 682.4,633.9 685.9,633.7 689.5,633.5 693,633.3 696.6,633.1 700.2,632.9 703.7,632.6 707.3,632.3 710.9,631.9 714.4,631.6 718,631.3 721.6,631 725.1,630.7 728.7,630.4 732.3,630.1 735.8,629.8 739.4,629.5 742.9,629.2 746.5,628.9 750.1,628.7 753.6,628.4 757.2,628.1 760.8,627.9 764.3,627.6 767.9,627.4 771.5,627.1 775,626.8 778.6,626.6 782.2,626.3 785.7,626 789.3,625.8 792.9,625.5 796.4,625.3 800,625 803.5,625 807.1,625 810.7,624.9 814.2,624.9 817.8,624.9 821.4,624.7 824.9,624.3 828.5,623.9 832.1,623.1 835.6,622.2 839.2,621.4 842.8,620.6 846.3,619.9 849.9,619.2 853.4,618.4 857,617.7 860.6,617 864.1,616.1 867.7,615.3 871.3,614.4 874.8,613.5 878.4,612.7 882,611.5 885.5,610.1 889.1,608.8 892.7,607.4 896.2,606 899.8,604.6 903.3,602.2 906.9,599.8 912.8,596 916.4,591.4 920.6,586.4 924.8,581.6 928.4,577.4 932,564.8 934.9,538.7 938.8,486 942.4,361.2 944.4,222.2 944.6,216.2" stroke="#37AD6B" stroke-width="3.4"/>
<path d="M87.1 664.1l5.8 -9.6h-11.6zM90.7 663.1l5.8 -9.6h-11.6zM94.2 663l5.8 -9.6h-11.6zM97.8 663l5.8 -9.6h-11.6zM101.4 662.9l5.8 -9.6h-11.6zM104.9 662.9l5.8 -9.6h-11.6zM108.5 662.8l5.8 -9.6h-11.6zM112.1 662.8l5.8 -9.6h-11.6zM115.6 662.7l5.8 -9.6h-11.6zM119.2 662.7l5.8 -9.6h-11.6zM122.7 662.6l5.8 -9.6h-11.6zM126.3 662.6l5.8 -9.6h-11.6zM129.9 662.5l5.8 -9.6h-11.6zM133.4 662.5l5.8 -9.6h-11.6zM137 662.4l5.8 -9.6h-11.6zM140.6 662.3l5.8 -9.6h-11.6zM144.1 662.3l5.8 -9.6h-11.6zM147.7 662.2l5.8 -9.6h-11.6zM151.3 662.2l5.8 -9.6h-11.6zM154.8 662.1l5.8 -9.6h-11.6zM158.4 662.1l5.8 -9.6h-11.6zM162 662l5.8 -9.6h-11.6zM165.5 662l5.8 -9.6h-11.6zM169.1 661.9l5.8 -9.6h-11.6zM172.6 661.8l5.8 -9.6h-11.6zM176.2 661.7l5.8 -9.6h-11.6zM179.8 661.7l5.8 -9.6h-11.6zM183.3 661.6l5.8 -9.6h-11.6zM186.9 661.5l5.8 -9.6h-11.6zM190.5 661.4l5.8 -9.6h-11.6zM194 661.3l5.8 -9.6h-11.6zM197.6 661.2l5.8 -9.6h-11.6zM201.2 661.1l5.8 -9.6h-11.6zM204.7 661.1l5.8 -9.6h-11.6zM208.3 661l5.8 -9.6h-11.6zM211.9 660.9l5.8 -9.6h-11.6zM215.4 660.8l5.8 -9.6h-11.6zM219 660.7l5.8 -9.6h-11.6zM222.5 660.6l5.8 -9.6h-11.6zM226.1 660.5l5.8 -9.6h-11.6zM229.7 660.5l5.8 -9.6h-11.6zM233.2 663l5.8 -9.6h-11.6zM236.8 663.5l5.8 -9.6h-11.6zM240.4 663.5l5.8 -9.6h-11.6zM243.9 663.4l5.8 -9.6h-11.6zM247.5 663.3l5.8 -9.6h-11.6zM251.1 663.2l5.8 -9.6h-11.6zM254.6 663.1l5.8 -9.6h-11.6zM258.2 663.1l5.8 -9.6h-11.6zM261.8 663l5.8 -9.6h-11.6zM265.3 662.9l5.8 -9.6h-11.6zM268.9 662.8l5.8 -9.6h-11.6zM272.4 662.8l5.8 -9.6h-11.6zM276 662.7l5.8 -9.6h-11.6zM279.6 662.6l5.8 -9.6h-11.6zM283.1 662.6l5.8 -9.6h-11.6zM286.7 662.6l5.8 -9.6h-11.6zM290.3 662.6l5.8 -9.6h-11.6zM293.8 662.6l5.8 -9.6h-11.6zM297.4 662.6l5.8 -9.6h-11.6zM301 662.6l5.8 -9.6h-11.6zM304.5 662.6l5.8 -9.6h-11.6zM308.1 662.6l5.8 -9.6h-11.6zM311.7 662.6l5.8 -9.6h-11.6zM315.2 662.6l5.8 -9.6h-11.6zM318.8 662.6l5.8 -9.6h-11.6zM322.4 662.6l5.8 -9.6h-11.6zM325.9 662.6l5.8 -9.6h-11.6zM329.5 662.6l5.8 -9.6h-11.6zM333 662.6l5.8 -9.6h-11.6zM336.6 662.6l5.8 -9.6h-11.6zM340.2 662.6l5.8 -9.6h-11.6zM343.7 662.6l5.8 -9.6h-11.6zM347.3 662.6l5.8 -9.6h-11.6zM350.9 662.6l5.8 -9.6h-11.6zM354.4 662.8l5.8 -9.6h-11.6zM358 663.9l5.8 -9.6h-11.6zM361.6 663.9l5.8 -9.6h-11.6zM365.1 663.9l5.8 -9.6h-11.6zM368.7 663.9l5.8 -9.6h-11.6zM372.3 663.9l5.8 -9.6h-11.6zM375.8 663.9l5.8 -9.6h-11.6zM379.4 663.9l5.8 -9.6h-11.6zM382.9 663.9l5.8 -9.6h-11.6zM386.5 658l5.8 -9.6h-11.6zM390.1 657.9l5.8 -9.6h-11.6zM393.6 657.8l5.8 -9.6h-11.6zM397.2 657.6l5.8 -9.6h-11.6zM400.8 657.5l5.8 -9.6h-11.6zM404.3 657.4l5.8 -9.6h-11.6zM407.9 657.3l5.8 -9.6h-11.6zM411.5 657.2l5.8 -9.6h-11.6zM415 657.1l5.8 -9.6h-11.6zM418.6 656.9l5.8 -9.6h-11.6zM422.2 656.8l5.8 -9.6h-11.6zM425.7 656.6l5.8 -9.6h-11.6zM429.3 656.4l5.8 -9.6h-11.6zM432.8 656.2l5.8 -9.6h-11.6zM436.4 656l5.8 -9.6h-11.6zM440 655.8l5.8 -9.6h-11.6zM443.5 655.6l5.8 -9.6h-11.6zM447.1 655.4l5.8 -9.6h-11.6zM450.7 655.2l5.8 -9.6h-11.6zM454.2 656.2l5.8 -9.6h-11.6zM457.8 657.8l5.8 -9.6h-11.6zM461.4 657.6l5.8 -9.6h-11.6zM464.9 657.5l5.8 -9.6h-11.6zM468.5 657.4l5.8 -9.6h-11.6zM472.1 657.2l5.8 -9.6h-11.6zM475.6 657.1l5.8 -9.6h-11.6zM479.2 656.9l5.8 -9.6h-11.6zM482.7 656.8l5.8 -9.6h-11.6zM486.3 656.7l5.8 -9.6h-11.6zM489.9 656.7l5.8 -9.6h-11.6zM493.4 656.6l5.8 -9.6h-11.6zM497 656.5l5.8 -9.6h-11.6zM500.6 656.3l5.8 -9.6h-11.6zM504.1 656l5.8 -9.6h-11.6zM507.7 655.6l5.8 -9.6h-11.6zM511.3 655.3l5.8 -9.6h-11.6zM514.8 654.9l5.8 -9.6h-11.6zM518.4 654.6l5.8 -9.6h-11.6zM522 654l5.8 -9.6h-11.6zM525.5 653.3l5.8 -9.6h-11.6zM529.1 652.6l5.8 -9.6h-11.6zM532.6 651.7l5.8 -9.6h-11.6zM536.2 650.8l5.8 -9.6h-11.6zM539.8 649.8l5.8 -9.6h-11.6zM543.3 647.6l5.8 -9.6h-11.6zM546.9 645.4l5.8 -9.6h-11.6zM550.5 644.7l5.8 -9.6h-11.6zM554 644.4l5.8 -9.6h-11.6zM557.6 644.1l5.8 -9.6h-11.6zM561.2 643.8l5.8 -9.6h-11.6zM564.7 643.7l5.8 -9.6h-11.6zM568.3 643.5l5.8 -9.6h-11.6zM571.9 643.4l5.8 -9.6h-11.6zM575.4 643.2l5.8 -9.6h-11.6zM579 643l5.8 -9.6h-11.6zM582.6 642.9l5.8 -9.6h-11.6zM586.1 642.8l5.8 -9.6h-11.6zM589.7 642.7l5.8 -9.6h-11.6zM593.2 642.6l5.8 -9.6h-11.6zM596.8 642.5l5.8 -9.6h-11.6zM600.4 642.4l5.8 -9.6h-11.6zM603.9 642.3l5.8 -9.6h-11.6zM607.5 642.2l5.8 -9.6h-11.6zM611.1 642.1l5.8 -9.6h-11.6zM614.6 642l5.8 -9.6h-11.6zM618.2 641.9l5.8 -9.6h-11.6zM621.8 641.7l5.8 -9.6h-11.6zM625.3 641.6l5.8 -9.6h-11.6zM628.9 641.5l5.8 -9.6h-11.6zM632.5 641.4l5.8 -9.6h-11.6zM636 641.3l5.8 -9.6h-11.6zM639.6 641.2l5.8 -9.6h-11.6zM643.1 641.1l5.8 -9.6h-11.6zM646.7 641.1l5.8 -9.6h-11.6zM650.3 641l5.8 -9.6h-11.6zM653.8 640.9l5.8 -9.6h-11.6zM657.4 640.9l5.8 -9.6h-11.6zM661 640.8l5.8 -9.6h-11.6zM664.5 640.7l5.8 -9.6h-11.6zM668.1 640.6l5.8 -9.6h-11.6zM671.7 640.6l5.8 -9.6h-11.6zM675.2 640.5l5.8 -9.6h-11.6zM678.8 640.4l5.8 -9.6h-11.6zM682.4 640.3l5.8 -9.6h-11.6zM685.9 640.1l5.8 -9.6h-11.6zM689.5 639.9l5.8 -9.6h-11.6zM693 639.7l5.8 -9.6h-11.6zM696.6 639.5l5.8 -9.6h-11.6zM700.2 639.3l5.8 -9.6h-11.6zM703.7 639l5.8 -9.6h-11.6zM707.3 638.7l5.8 -9.6h-11.6zM710.9 638.3l5.8 -9.6h-11.6zM714.4 638l5.8 -9.6h-11.6zM718 637.7l5.8 -9.6h-11.6zM721.6 637.4l5.8 -9.6h-11.6zM725.1 637.1l5.8 -9.6h-11.6zM728.7 636.8l5.8 -9.6h-11.6zM732.3 636.5l5.8 -9.6h-11.6zM735.8 636.2l5.8 -9.6h-11.6zM739.4 635.9l5.8 -9.6h-11.6zM742.9 635.6l5.8 -9.6h-11.6zM746.5 635.3l5.8 -9.6h-11.6zM750.1 635.1l5.8 -9.6h-11.6zM753.6 634.8l5.8 -9.6h-11.6zM757.2 634.5l5.8 -9.6h-11.6zM760.8 634.3l5.8 -9.6h-11.6zM764.3 634l5.8 -9.6h-11.6zM767.9 633.8l5.8 -9.6h-11.6zM771.5 633.5l5.8 -9.6h-11.6zM775 633.2l5.8 -9.6h-11.6zM778.6 633l5.8 -9.6h-11.6zM782.2 632.7l5.8 -9.6h-11.6zM785.7 632.4l5.8 -9.6h-11.6zM789.3 632.2l5.8 -9.6h-11.6zM792.9 631.9l5.8 -9.6h-11.6zM796.4 631.7l5.8 -9.6h-11.6zM800 631.4l5.8 -9.6h-11.6zM803.5 631.4l5.8 -9.6h-11.6zM807.1 631.4l5.8 -9.6h-11.6zM810.7 631.3l5.8 -9.6h-11.6zM814.2 631.3l5.8 -9.6h-11.6zM817.8 631.3l5.8 -9.6h-11.6zM821.4 631.1l5.8 -9.6h-11.6zM824.9 630.7l5.8 -9.6h-11.6zM828.5 630.3l5.8 -9.6h-11.6zM832.1 629.5l5.8 -9.6h-11.6zM835.6 628.6l5.8 -9.6h-11.6zM839.2 627.8l5.8 -9.6h-11.6zM842.8 627l5.8 -9.6h-11.6zM846.3 626.3l5.8 -9.6h-11.6zM849.9 625.6l5.8 -9.6h-11.6zM853.4 624.8l5.8 -9.6h-11.6zM857 624.1l5.8 -9.6h-11.6zM860.6 623.4l5.8 -9.6h-11.6zM864.1 622.5l5.8 -9.6h-11.6zM867.7 621.7l5.8 -9.6h-11.6zM871.3 620.8l5.8 -9.6h-11.6zM874.8 619.9l5.8 -9.6h-11.6zM878.4 619.1l5.8 -9.6h-11.6zM882 617.9l5.8 -9.6h-11.6zM885.5 616.5l5.8 -9.6h-11.6zM889.1 615.2l5.8 -9.6h-11.6zM892.7 613.8l5.8 -9.6h-11.6zM896.2 612.4l5.8 -9.6h-11.6zM899.8 611l5.8 -9.6h-11.6zM903.3 608.6l5.8 -9.6h-11.6zM906.9 606.2l5.8 -9.6h-11.6zM912.8 602.4l5.8 -9.6h-11.6zM916.4 597.8l5.8 -9.6h-11.6zM920.6 592.8l5.8 -9.6h-11.6zM924.8 588l5.8 -9.6h-11.6zM928.4 583.8l5.8 -9.6h-11.6zM932 571.2l5.8 -9.6h-11.6zM934.9 545.1l5.8 -9.6h-11.6zM938.8 492.4l5.8 -9.6h-11.6zM942.4 367.6l5.8 -9.6h-11.6zM944.4 228.6l5.8 -9.6h-11.6zM944.6 222.6l5.8 -9.6h-11.6z" fill="#37AD6B" stroke="none"/>
</g>
<g id="ticklabels" class="tk">
<text class="tk" text-anchor="end" x="71.2" y="686.5">2</text>
<text class="tk" text-anchor="end" x="71.2" y="575.7">4</text>
<text class="tk" text-anchor="end" x="71.2" y="464.9">6</text>
<text class="tk" text-anchor="end" x="71.2" y="354">8</text>
<text class="tk" text-anchor="end" x="70" y="243.2">10</text>
<text class="tk" text-anchor="end" x="70" y="132.4">12</text>
<text class="tk" text-anchor="end" x="70" y="20.4">14</text>
<text class="tk" text-anchor="middle" x="86.6" y="772">0</text>
<text class="tk" text-anchor="middle" x="264.8" y="772">50</text>
<text class="tk" text-anchor="middle" x="443" y="772">100</text>
<text class="tk" text-anchor="middle" x="621.3" y="772">150</text>
<text class="tk" text-anchor="middle" x="799.5" y="772">200</text>
<text class="tk" text-anchor="middle" x="977.7" y="772">250</text>
</g>
<text class="ttl" text-anchor="middle" x="532.8" y="830.7">Time (h)</text>
<text class="ttl" text-anchor="middle" transform="translate(24.8 372.2) rotate(-90)">E (V)</text>
</svg></body></html>
